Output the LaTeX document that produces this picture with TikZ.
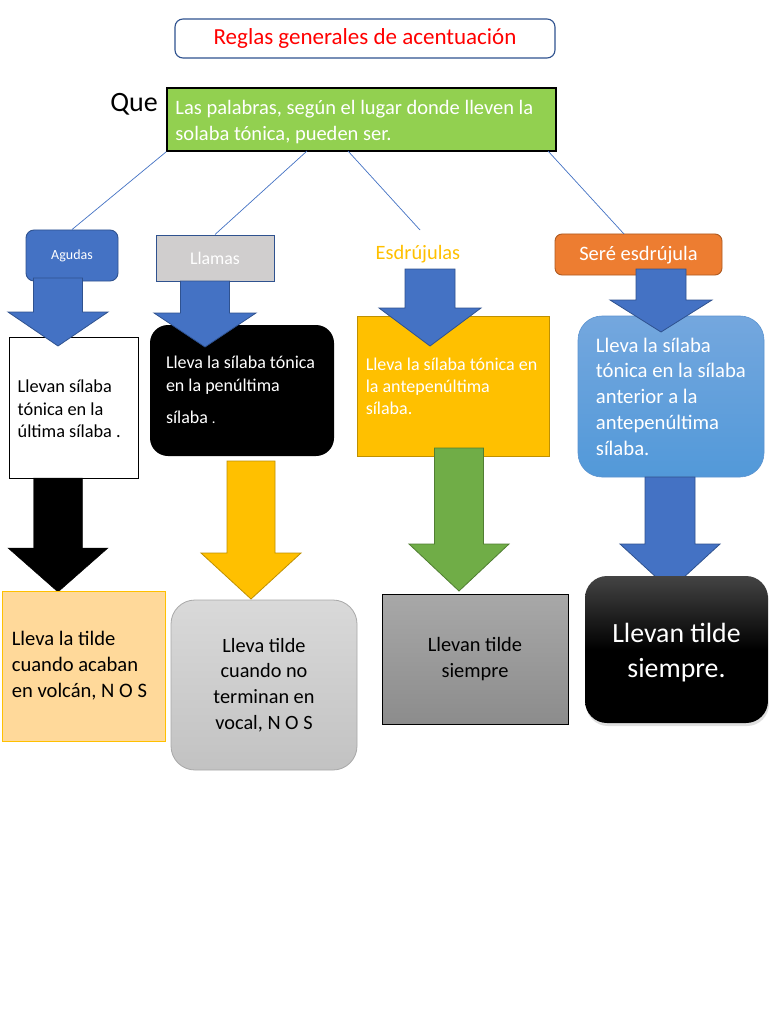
\documentclass[tikz,border=0pt]{standalone}
\usepackage{fontspec}
\setmainfont{Carlito}
\usetikzlibrary{shadows}
\definecolor{bluea}{HTML}{4472C4}
\definecolor{bdark}{HTML}{2F528F}
\definecolor{lgreen}{HTML}{92D050}
\definecolor{lgrayb}{HTML}{D0CECE}
\definecolor{gold}{HTML}{FFC000}
\definecolor{golddark}{HTML}{BF9000}
\definecolor{orangec}{HTML}{ED7D31}
\definecolor{orangedark}{HTML}{AE5A21}
\definecolor{greenarr}{HTML}{70AD47}
\definecolor{greendark}{HTML}{507E32}
\definecolor{peach}{HTML}{FFD99A}
\definecolor{skytop}{HTML}{74A7DE}
\definecolor{skybot}{HTML}{5299D9}
\definecolor{skyedge}{HTML}{5B93D0}
\definecolor{gtop}{HTML}{D9D9D9}
\definecolor{gbot}{HTML}{C2C2C2}
\definecolor{gedge}{HTML}{A8A8A8}
\definecolor{dtop}{HTML}{A8A8A8}
\definecolor{dbot}{HTML}{8C8C8C}
\definecolor{ktop}{HTML}{444444}
\newcommand{\fs}[2]{\fontsize{#1}{#2}\selectfont}
% block arrow: style, cx, top, half shaft, head y, half head, tip y
\newcommand{\barrow}[7]{\draw[#1] (#2-#4,#3) -- (#2+#4,#3) -- (#2+#4,#5) -- (#2+#6,#5) -- (#2,#7) -- (#2-#6,#5) -- (#2-#4,#5) -- cycle;}
\begin{document}
\begin{tikzpicture}[x=1pt,y=-1pt,
  conn/.style={draw=bluea, line width=0.7pt},
  arrblue/.style={fill=bluea, draw=bdark, line width=0.8pt, line join=miter},
  txt/.style={inner sep=0pt, align=left, anchor=west}]
\useasboundingbox[fill=white] (0,0) rectangle (768,1024);

% title
\node[draw=bdark, line width=1.1pt, rounded corners=8pt, fill=white,
      minimum width=380, minimum height=39, text=red, font=\fs{23}{27}]
      (title) at (365,38.5) {Reglas generales de acentuación};

\node[font=\fs{28}{32}, inner sep=0pt] (que) at (134,104) {Que};

\node[draw=black, line width=1.5pt, fill=lgreen, minimum width=389, minimum height=63]
      (main) at (361.5,119.5) {};
\node[txt, text=white, font=\fs{20.5}{26}] (maint) at ([xshift=9pt,yshift=-3pt]main.west)
      {Las palabras, según el lugar donde lleven la\\solaba tónica, pueden ser.};

% level 1
\node[draw=bdark, line width=0.9pt, fill=bluea, rounded corners=8pt, minimum width=92,
      minimum height=51, text=white, font=\fs{14}{16}] (ag) at (72,255.5) {Agudas};
\node[draw=bdark, line width=1pt, fill=lgrayb, minimum width=118, minimum height=46,
      text=white, font=\fs{17.8}{20}] (ll) at (215,258) {Llamas};
\node[text=gold, font=\fs{20.4}{24}, inner sep=0pt] (es) at (418,254) {Esdrújulas};
\node[draw=orangedark, line width=0.9pt, fill=orangec, rounded corners=7pt,
      minimum width=167, minimum height=41, text=white, font=\fs{20.5}{24},
      text depth=2pt] (se) at (638.5,254.5) {Seré esdrújula};

\coordinate (m2) at (307,151);
\coordinate (m3) at (348,151);
\coordinate (m4) at (548,151);
\coordinate (e3) at (420,230);
\coordinate (e4) at (624,234);
\draw[conn] (main.south west) -- (ag.north);
\draw[conn] (m2) -- (ll.north);
\draw[conn] (m3) -- (e3);
\draw[conn] (m4) -- (e4);

% level 2 boxes
\node[draw=black, line width=1pt, fill=white, minimum width=129, minimum height=141]
      (b1) at (73.5,407.5) {};
\node[txt, font=\fs{18.3}{22.5}] (b1t) at ([xshift=9pt,yshift=-1.5pt]b1.west)
      {Llevan sílaba\\tónica en la\\última sílaba .};

\node[fill=black, rounded corners=18pt, minimum width=184, minimum height=131]
      (b2) at (242,390.5) {};
\node[txt, text=white, font=\fs{18}{23}] (b2t) at ([xshift=16pt,yshift=1pt]b2.west)
      {Lleva la sílaba tónica\\en la penúltima\\[9pt]sílaba {\bfseries\large .}};

\node[draw=golddark, line width=0.8pt, fill=gold, minimum width=192, minimum height=140]
      (b3) at (453,386) {};
\node[txt, text=white, font=\fs{18}{22}] (b3t) at ([xshift=9pt]b3.west)
      {Lleva la sílaba tónica en\\la antepenúltima\\sílaba.};

\node[draw=skyedge, line width=0.6pt, top color=skytop, bottom color=skybot,
      rounded corners=24pt, minimum width=186, minimum height=161]
      (b4) at (671,396.5) {};
\node[txt, text=white, font=\fs{20.7}{25.7}] (b4t) at ([xshift=18pt]b4.west)
      {Lleva la sílaba\\tónica en la sílaba\\anterior a la\\antepenúltima\\sílaba.};

% level 1 -> 2 arrows
\barrow{arrblue}{58}{278}{24.5}{312}{50}{346}
\barrow{arrblue}{205}{281}{24.5}{313}{51}{347}
\barrow{arrblue}{430}{269}{25}{308}{51}{346}
\barrow{arrblue}{661}{269}{25}{300}{51}{332}

% level 2 -> 3 arrows
\barrow{fill=black, draw=black}{58}{478}{24.5}{548}{50}{592}
\barrow{fill=gold, draw=golddark, line width=0.8pt}{251}{461}{24}{553}{50}{599}
\barrow{fill=greenarr, draw=greendark, line width=0.8pt}{459}{448}{24.5}{544}{50}{591}
\barrow{arrblue}{670}{477}{25}{544}{50}{590}

% level 3 boxes
\node[draw=gold, line width=0.8pt, fill=peach, minimum width=163, minimum height=150]
      (c1) at (83.5,666) {};
\node[txt, font=\fs{20.6}{26}] (c1t) at ([xshift=10pt]c1.west)
      {Lleva la tilde\\cuando acaban\\en volcán, N O S};

\node[draw=gedge, line width=0.8pt, top color=gtop, bottom color=gbot, rounded corners=24pt,
      minimum width=186, minimum height=170, align=center, font=\fs{20.3}{25.7}]
      (c2) at (264,685) {Lleva tilde\\cuando no\\terminan en\\vocal, N O S};

\node[draw=black, line width=1pt, top color=dtop, bottom color=dbot,
      minimum width=186, minimum height=130, align=center, font=\fs{20.4}{26}]
      (c3) at (475,659) {Llevan tilde\\siempre};

\node[top color=ktop, bottom color=black, middle color=black, rounded corners=22pt,
      minimum width=183, minimum height=147, drop shadow={opacity=0.25, shadow xshift=1pt, shadow yshift=-3pt}]
      (c4) at (676.5,649.5) {};
\node[align=center, text=white, font=\fs{27.8}{35}, inner sep=0pt] (c4t)
      at ([yshift=-3pt]c4.center) {Llevan tilde\\siempre.};
\end{tikzpicture}
\end{document}
